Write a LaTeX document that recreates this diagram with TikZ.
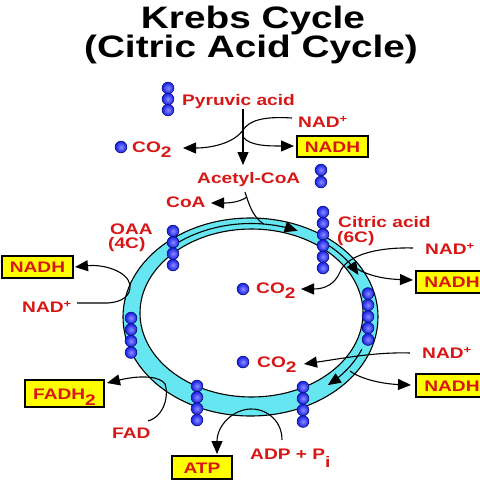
\documentclass[tikz,border=0pt]{standalone}
\usepackage{fontspec}
\setmainfont{Liberation Sans}
\newfontfamily\labfont{Liberation Sans}[FakeStretch=1.25]
\usetikzlibrary{arrows.meta}
\definecolor{labred}{RGB}{215,22,22}
\definecolor{ringcyan}{RGB}{102,230,240}
\definecolor{dotblue}{RGB}{20,30,230}
\definecolor{dotedge}{RGB}{10,15,120}
\definecolor{boxyellow}{RGB}{255,255,0}
\tikzset{
  lab/.style={anchor=base west, inner sep=0pt, text=labred,
    font=\labfont\bfseries\fontsize{15.3}{15}\selectfont},
  ybox/.style={draw=black, line width=1.3pt, fill=boxyellow, text=labred,
    font=\labfont\bfseries\fontsize{15.3}{15}\selectfont,
    inner sep=0pt, text height=11pt, text depth=0pt},
  ttl/.style={anchor=base, inner sep=0pt, text=black,
    font=\labfont\bfseries\fontsize{31}{31}\selectfont},
  conn/.style={line width=1.1pt, draw=black},
  arr/.style={conn, -{Triangle[length=13pt,width=11pt]}},
  dot/.style={circle, minimum size=11.8pt, inner sep=0pt,
    inner color=blue!45!white, outer color=dotblue,
    draw=dotedge, line width=0.6pt},
  ringline/.style={line width=1.1pt, draw=black}
}
\newcommand{\subtwo}[2]{\raisebox{#1}{#2}}
\newcommand{\plusup}{\raisebox{5pt}{\fontsize{10.5}{10}\selectfont +}}
\begin{document}
\begin{tikzpicture}[x=1pt,y=-1pt]
\useasboundingbox (0,0) rectangle (480,480);
% title
\node[ttl] (t1) at (253,28) {Krebs Cycle};
\node[ttl] (t2) at (251,57) {(Citric Acid Cycle)};
% ring
\fill[ringcyan, even odd rule] (250.5,317) ellipse[x radius=127.5, y radius=99]
  (251.5,313) ellipse[x radius=111.5, y radius=84];
\draw[ringline] (250.5,317) ellipse[x radius=127.5, y radius=99];
\draw[ringline] (251.5,313) ellipse[x radius=111.5, y radius=84];
% tracks in the ring
\draw[arr] plot[domain=128:67, samples=40, variable=\t] ({251+119.5*cos(\t)},{315-91.5*sin(\t)});
\draw[arr] plot[domain=50:26, samples=20, variable=\t] ({251+119.5*cos(\t)},{315-91.5*sin(\t)});
\draw[arr] plot[domain=-22:-50, samples=20, variable=\t] ({251+119.5*cos(\t)},{315-91.5*sin(\t)});
% coordinates
\coordinate (pyrA) at (243,109);
\coordinate (acB) at (243,165);
\coordinate (nadTa) at (292,118);
\coordinate (co2Ta) at (183,148);
\coordinate (brA) at (243,137);
\coordinate (nadhTa) at (294,146);
\coordinate (acJ) at (245,192);
\coordinate (trkM) at (263.5,224);
\coordinate (coaJ) at (247,197);
\coordinate (coaT) at (211,203);
\coordinate (nadR1) at (413,248);
\coordinate (co2R1) at (301,289);
\coordinate (nhR1s) at (350,264);
\coordinate (nhR1t) at (413,280);
\coordinate (nadR2) at (410,353);
\coordinate (co2R2) at (304,364);
\coordinate (nhR2s) at (350,371);
\coordinate (nhR2t) at (411,385);
\coordinate (nadL) at (77,303);
\coordinate (nhLt) at (75,267);
\coordinate (fadS) at (148,421);
\coordinate (fadT) at (107,383);
\coordinate (adpS) at (282,440);
\coordinate (atpT) at (217,454);
% connectors
\draw[arr] (pyrA) -- (acB);
\draw[arr] (nadTa) .. controls (262,116) and (249,121) .. (243,130)
  .. controls (234,143) and (212,148) .. (co2Ta);
\draw[arr] (brA) .. controls (250,146) and (268,146) .. (nadhTa);
\draw[conn] (acJ) .. controls (249,204) and (252,216) .. (trkM);
\draw[arr] (coaJ) .. controls (240,202) and (230,203) .. (coaT);
\draw[arr] (nadR1) .. controls (372,247) and (346,257) .. (340,272)
  .. controls (335,284) and (325,289) .. (co2R1);
\draw[arr] (nhR1s) .. controls (365,276) and (385,279) .. (nhR1t);
\draw[arr] (nadR2) .. controls (375,352) and (345,358) .. (co2R2);
\draw[arr] (nhR2s) .. controls (362,380) and (385,384) .. (nhR2t);
\draw[arr] (nadL) -- (108,303) .. controls (122,302) and (131,296) .. (130,285)
  .. controls (128,272) and (105,264) .. (nhLt);
\draw[arr] (fadS) .. controls (165,416) and (169,394) .. (165,384)
  .. controls (160,376) and (140,375) .. (fadT);
\draw[arr] (adpS) .. controls (282,418) and (263,408) .. (250,409)
  .. controls (232,410) and (217,426) .. (atpT);
% dots
\foreach \y [count=\i] in {88,99,110} \node[dot] (pyr\i) at (168,\y) {};
\node[dot] (co2t) at (121,147) {};
\foreach \y [count=\i] in {170,182} \node[dot] (ac\i) at (321,\y) {};
\foreach \y [count=\i] in {212,223.2,234.4,245.6,256.8,268} \node[dot] (cit\i) at (323,\y) {};
\foreach \y [count=\i] in {231,242.3,253.6,265} \node[dot] (oaa\i) at (173,\y) {};
\foreach \y [count=\i] in {318,329.5,341,352.5} \node[dot] (lf\i) at (131,\y) {};
\foreach \y [count=\i] in {386,397.3,408.6,420} \node[dot] (bl\i) at (197,\y) {};
\foreach \y [count=\i] in {387,398.5,410,421.5} \node[dot] (br\i) at (303,\y) {};
\foreach \y [count=\i] in {293.5,305,316.5,328,339.5} \node[dot] (rt\i) at (368,\y) {};
\node[dot] (co2i1) at (243,289) {};
\node[dot] (co2i2) at (243,362) {};
% labels
\node[lab] (pyr) at (182,105) {Pyruvic acid};
\node[lab] (nad1) at (298,127) {NAD\plusup};
\node[lab] (co2a) at (132,152) {CO\subtwo{-5pt}{2}};
\node[ybox, minimum width=71pt, minimum height=21pt] (nadh1) at (332.5,146.5) {NADH};
\node[lab] (acetyl) at (197,183) {Acetyl-CoA};
\node[lab] (coa) at (166,207) {CoA};
\node[lab] (oaa) at (110,234) {OAA};
\node[lab] (oaac) at (108,248) {(4C)};
\node[lab] (cit) at (338,227) {Citric acid};
\node[lab] (citc) at (337,242) {(6C)};
\node[lab] (nad2) at (425,254) {NAD\plusup};
\node[ybox, minimum width=72pt, minimum height=22pt] (nadh2) at (452,282) {NADH};
\node[lab] (co2b) at (256,293) {CO\subtwo{-5pt}{2}};
\node[ybox, minimum width=71pt, minimum height=22pt] (nadh3) at (37.5,267) {NADH};
\node[lab] (nad3) at (22,312) {NAD\plusup};
\node[lab] (co2c) at (257,367) {CO\subtwo{-5pt}{2}};
\node[lab] (nad4) at (422,358) {NAD\plusup};
\node[ybox, minimum width=72pt, minimum height=23pt] (nadh4) at (452,385.5) {NADH};
\node[ybox, minimum width=79pt, minimum height=27pt] (fadh) at (64.5,393.5) {FADH\subtwo{-6pt}{2}};
\node[lab] (fad) at (112,438) {FAD};
\node[ybox, minimum width=60pt, minimum height=23pt] (atp) at (202,467.5) {ATP};
\node[lab] (adp) at (250,459) {ADP + P\subtwo{-8pt}{i}};
\end{tikzpicture}
\end{document}
